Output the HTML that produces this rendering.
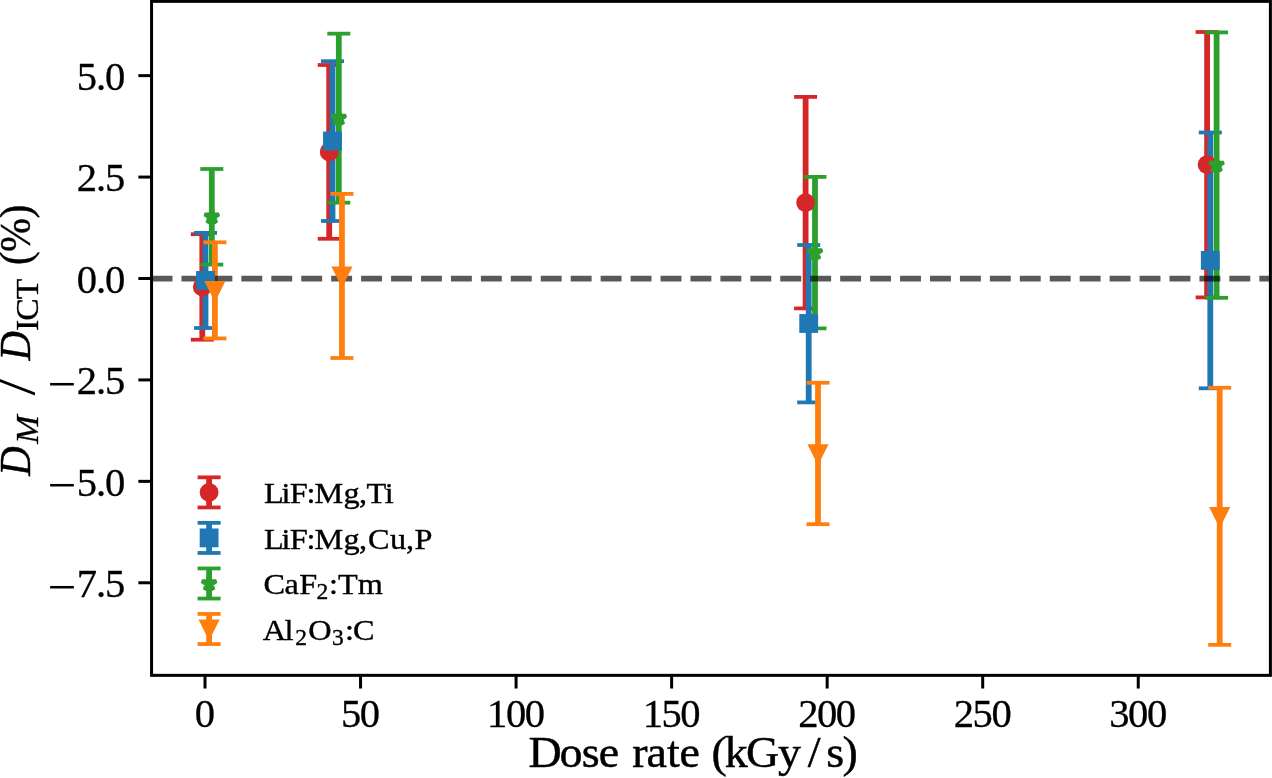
<!DOCTYPE html>
<html lang="en"><head><meta charset="utf-8"><title>Dose rate response</title>
<style>html,body{margin:0;padding:0;background:#fff}svg{display:block}</style></head>
<body>
<svg width="1272" height="778" viewBox="0 0 1272 778" font-family="'Liberation Serif', serif" fill="#000" shape-rendering="geometricPrecision">
<rect width="1272" height="778" fill="#fff"/>
<g id="errorbars">
<line x1="202.3" y1="234.2" x2="202.3" y2="339.7" stroke="#d62728" stroke-width="5.8"/>
<line x1="329.2" y1="65" x2="329.2" y2="238.8" stroke="#d62728" stroke-width="5.8"/>
<line x1="805.6" y1="96.9" x2="805.6" y2="308.4" stroke="#d62728" stroke-width="5.8"/>
<line x1="1207.1" y1="32" x2="1207.1" y2="297.4" stroke="#d62728" stroke-width="5.8"/>
<line x1="190.8" y1="339.7" x2="213.8" y2="339.7" stroke="#d62728" stroke-width="3.77"/>
<line x1="317.7" y1="238.8" x2="340.7" y2="238.8" stroke="#d62728" stroke-width="3.77"/>
<line x1="794.1" y1="308.4" x2="817.1" y2="308.4" stroke="#d62728" stroke-width="3.77"/>
<line x1="1195.6" y1="297.4" x2="1218.6" y2="297.4" stroke="#d62728" stroke-width="3.77"/>
<line x1="190.8" y1="234.2" x2="213.8" y2="234.2" stroke="#d62728" stroke-width="3.77"/>
<line x1="317.7" y1="65" x2="340.7" y2="65" stroke="#d62728" stroke-width="3.77"/>
<line x1="794.1" y1="96.9" x2="817.1" y2="96.9" stroke="#d62728" stroke-width="3.77"/>
<line x1="1195.6" y1="32" x2="1218.6" y2="32" stroke="#d62728" stroke-width="3.77"/>
<line x1="205.5" y1="232.9" x2="205.5" y2="328" stroke="#1f77b4" stroke-width="5.8"/>
<line x1="332.5" y1="61.2" x2="332.5" y2="221" stroke="#1f77b4" stroke-width="5.8"/>
<line x1="808.7" y1="245" x2="808.7" y2="402.4" stroke="#1f77b4" stroke-width="5.8"/>
<line x1="1210.3" y1="132.5" x2="1210.3" y2="388.3" stroke="#1f77b4" stroke-width="5.8"/>
<line x1="194" y1="328" x2="217" y2="328" stroke="#1f77b4" stroke-width="3.77"/>
<line x1="321" y1="221" x2="344" y2="221" stroke="#1f77b4" stroke-width="3.77"/>
<line x1="797.2" y1="402.4" x2="820.2" y2="402.4" stroke="#1f77b4" stroke-width="3.77"/>
<line x1="1198.8" y1="388.3" x2="1221.8" y2="388.3" stroke="#1f77b4" stroke-width="3.77"/>
<line x1="194" y1="232.9" x2="217" y2="232.9" stroke="#1f77b4" stroke-width="3.77"/>
<line x1="321" y1="61.2" x2="344" y2="61.2" stroke="#1f77b4" stroke-width="3.77"/>
<line x1="797.2" y1="245" x2="820.2" y2="245" stroke="#1f77b4" stroke-width="3.77"/>
<line x1="1198.8" y1="132.5" x2="1221.8" y2="132.5" stroke="#1f77b4" stroke-width="3.77"/>
<line x1="211.8" y1="169" x2="211.8" y2="264.6" stroke="#2ca02c" stroke-width="5.8"/>
<line x1="338.8" y1="33.65" x2="338.8" y2="202.65" stroke="#2ca02c" stroke-width="5.8"/>
<line x1="815" y1="176.9" x2="815" y2="328.4" stroke="#2ca02c" stroke-width="5.8"/>
<line x1="1216.6" y1="32.4" x2="1216.6" y2="297.8" stroke="#2ca02c" stroke-width="5.8"/>
<line x1="200.3" y1="264.6" x2="223.3" y2="264.6" stroke="#2ca02c" stroke-width="3.77"/>
<line x1="327.3" y1="202.65" x2="350.3" y2="202.65" stroke="#2ca02c" stroke-width="3.77"/>
<line x1="803.5" y1="328.4" x2="826.5" y2="328.4" stroke="#2ca02c" stroke-width="3.77"/>
<line x1="1205.1" y1="297.8" x2="1228.1" y2="297.8" stroke="#2ca02c" stroke-width="3.77"/>
<line x1="200.3" y1="169" x2="223.3" y2="169" stroke="#2ca02c" stroke-width="3.77"/>
<line x1="327.3" y1="33.65" x2="350.3" y2="33.65" stroke="#2ca02c" stroke-width="3.77"/>
<line x1="803.5" y1="176.9" x2="826.5" y2="176.9" stroke="#2ca02c" stroke-width="3.77"/>
<line x1="1205.1" y1="32.4" x2="1228.1" y2="32.4" stroke="#2ca02c" stroke-width="3.77"/>
<line x1="214.9" y1="242.3" x2="214.9" y2="338.4" stroke="#ff7f0e" stroke-width="5.8"/>
<line x1="341.95" y1="193.9" x2="341.95" y2="358" stroke="#ff7f0e" stroke-width="5.8"/>
<line x1="818" y1="382.75" x2="818" y2="524.2" stroke="#ff7f0e" stroke-width="5.8"/>
<line x1="1219.7" y1="387.75" x2="1219.7" y2="644.85" stroke="#ff7f0e" stroke-width="5.8"/>
<line x1="203.4" y1="338.4" x2="226.4" y2="338.4" stroke="#ff7f0e" stroke-width="3.77"/>
<line x1="330.45" y1="358" x2="353.45" y2="358" stroke="#ff7f0e" stroke-width="3.77"/>
<line x1="806.5" y1="524.2" x2="829.5" y2="524.2" stroke="#ff7f0e" stroke-width="3.77"/>
<line x1="1208.2" y1="644.85" x2="1231.2" y2="644.85" stroke="#ff7f0e" stroke-width="3.77"/>
<line x1="203.4" y1="242.3" x2="226.4" y2="242.3" stroke="#ff7f0e" stroke-width="3.77"/>
<line x1="330.45" y1="193.9" x2="353.45" y2="193.9" stroke="#ff7f0e" stroke-width="3.77"/>
<line x1="806.5" y1="382.75" x2="829.5" y2="382.75" stroke="#ff7f0e" stroke-width="3.77"/>
<line x1="1208.2" y1="387.75" x2="1231.2" y2="387.75" stroke="#ff7f0e" stroke-width="3.77"/>
</g>
<line x1="151.55" y1="278.6" x2="1270.4" y2="278.6" stroke="#000" stroke-opacity="0.65" stroke-width="5.65" stroke-dasharray="20.9 9.04"/>
<g id="markers">
<circle cx="202.3" cy="286.9" r="9.41" fill="#d62728"/>
<circle cx="329.2" cy="151.9" r="9.41" fill="#d62728"/>
<circle cx="805.6" cy="202.6" r="9.41" fill="#d62728"/>
<circle cx="1207.1" cy="164.7" r="9.41" fill="#d62728"/>
<rect x="196.09" y="270.98" width="18.83" height="18.83" fill="#1f77b4"/>
<rect x="323.08" y="131.59" width="18.83" height="18.83" fill="#1f77b4"/>
<rect x="799.29" y="314.08" width="18.83" height="18.83" fill="#1f77b4"/>
<rect x="1200.88" y="250.98" width="18.83" height="18.83" fill="#1f77b4"/>
<polygon points="211.8,209.17 210.11,214.37 204.64,214.37 209.06,217.59 207.37,222.79 211.8,219.58 216.23,222.79 214.54,217.59 218.96,214.37 213.49,214.37" fill="#2ca02c" stroke="#2ca02c" stroke-width="3.77" stroke-linejoin="bevel"/>
<polygon points="338.8,110.47 337.11,115.67 331.64,115.67 336.06,118.89 334.37,124.09 338.8,120.88 343.23,124.09 341.54,118.89 345.96,115.67 340.49,115.67" fill="#2ca02c" stroke="#2ca02c" stroke-width="3.77" stroke-linejoin="bevel"/>
<polygon points="815,244.97 813.31,250.17 807.84,250.17 812.26,253.39 810.57,258.59 815,255.38 819.43,258.59 817.74,253.39 822.16,250.17 816.69,250.17" fill="#2ca02c" stroke="#2ca02c" stroke-width="3.77" stroke-linejoin="bevel"/>
<polygon points="1216.6,157.37 1214.91,162.57 1209.44,162.57 1213.86,165.79 1212.17,170.99 1216.6,167.78 1221.03,170.99 1219.34,165.79 1223.76,162.57 1218.29,162.57" fill="#2ca02c" stroke="#2ca02c" stroke-width="3.77" stroke-linejoin="bevel"/>
<polygon points="207.37,282.97 222.43,282.97 214.9,298.03" fill="#ff7f0e" stroke="#ff7f0e" stroke-width="3.77" stroke-linejoin="miter" stroke-miterlimit="10"/>
<polygon points="334.42,268.47 349.48,268.47 341.95,283.53" fill="#ff7f0e" stroke="#ff7f0e" stroke-width="3.77" stroke-linejoin="miter" stroke-miterlimit="10"/>
<polygon points="810.47,446.07 825.53,446.07 818,461.13" fill="#ff7f0e" stroke="#ff7f0e" stroke-width="3.77" stroke-linejoin="miter" stroke-miterlimit="10"/>
<polygon points="1212.17,508.87 1227.23,508.87 1219.7,523.93" fill="#ff7f0e" stroke="#ff7f0e" stroke-width="3.77" stroke-linejoin="miter" stroke-miterlimit="10"/>
</g>
<g id="axes" stroke="#000" stroke-width="3.01" fill="none">
<rect x="151.55" y="1.35" width="1118.85" height="674"/>
<line x1="205" y1="675.35" x2="205" y2="688.53"/>
<line x1="360.54" y1="675.35" x2="360.54" y2="688.53"/>
<line x1="516.08" y1="675.35" x2="516.08" y2="688.53"/>
<line x1="671.62" y1="675.35" x2="671.62" y2="688.53"/>
<line x1="827.16" y1="675.35" x2="827.16" y2="688.53"/>
<line x1="982.7" y1="675.35" x2="982.7" y2="688.53"/>
<line x1="1138.24" y1="675.35" x2="1138.24" y2="688.53"/>
<line x1="151.55" y1="75.65" x2="138.37" y2="75.65"/>
<line x1="151.55" y1="177.07" x2="138.37" y2="177.07"/>
<line x1="151.55" y1="278.5" x2="138.37" y2="278.5"/>
<line x1="151.55" y1="379.93" x2="138.37" y2="379.93"/>
<line x1="151.55" y1="481.35" x2="138.37" y2="481.35"/>
<line x1="151.55" y1="582.77" x2="138.37" y2="582.77"/>
</g>
<g id="xticklabels">
<text x="194.85" y="727.4" font-size="40.6" stroke="#000" stroke-width="0.3">0</text>
<text x="340.98 359.81" y="727.4" font-size="40.6" stroke="#000" stroke-width="0.3">50</text>
<text x="487.1 505.93 524.76" y="727.4" font-size="40.6" stroke="#000" stroke-width="0.3">100</text>
<text x="642.64 661.47 680.3" y="727.4" font-size="40.6" stroke="#000" stroke-width="0.3">150</text>
<text x="798.18 817.01 835.84" y="727.4" font-size="40.6" stroke="#000" stroke-width="0.3">200</text>
<text x="953.72 972.55 991.38" y="727.4" font-size="40.6" stroke="#000" stroke-width="0.3">250</text>
<text x="1109.26 1128.09 1146.92" y="727.4" font-size="40.6" stroke="#000" stroke-width="0.3">300</text>
</g>
<g id="yticklabels" stroke="#000" stroke-width="0.3">
<text font-size="40.6"><tspan x="76.69 95.89 104.94" y="89.85">5.0</tspan></text>
<text font-size="40.6"><tspan x="76.69 95.89 104.94" y="191.27">2.5</tspan></text>
<text font-size="40.6"><tspan x="76.69 95.89 104.94" y="292.7">0.0</tspan></text>
<text font-size="40.6"><tspan x="47.64" y="400.76" font-size="51" stroke="none">−</tspan><tspan x="76.69 95.89 104.94" y="394.12">2.5</tspan></text>
<text font-size="40.6"><tspan x="47.64" y="502.18" font-size="51" stroke="none">−</tspan><tspan x="76.69 95.89 104.94" y="495.55">5.0</tspan></text>
<text font-size="40.6"><tspan x="47.64" y="603.61" font-size="51" stroke="none">−</tspan><tspan x="76.69 95.89 104.94" y="596.98">7.5</tspan></text>
</g>
<g id="xlabel">
<text transform="translate(0,766.7) scale(1.05,1)" x="503.24 532.76 553.99 570.33 595.24 602.27 615.76 635.31 647.14 672.38 677.59 690.25 710.49 741.01 769.25 786.85 802.49" y="0" font-size="43.8" stroke="#000" stroke-width="0.45">Dose rate (kGy/s)</text>
</g>
<g id="ylabel" transform="translate(0,476.1) rotate(-90)">
<text transform="translate(0,30.3) scale(0.93,1)" x="0.51" y="0" font-size="43.8" font-style="italic" stroke="#000" stroke-width="0.45">D</text>
<text transform="translate(0,37.9) scale(1.05,1)" x="30.72" y="0" font-size="32.5" font-style="italic" stroke="#000" stroke-width="0.35">M</text>
<text transform="translate(0,33.9) scale(1.15,1)" x="70.06" y="0" font-size="54">/</text>
<text transform="translate(0,30.3) scale(0.93,1)" x="124.28" y="0" font-size="43.8" font-style="italic" stroke="#000" stroke-width="0.45">D</text>
<text transform="translate(0,37.9) scale(1.04,1)" x="139.57 149.44 170.1" y="0" font-size="32.5" stroke="#000" stroke-width="0.35">ICT</text>
<text transform="translate(0,30.3) scale(0.93,1)" x="226.97 241.11 277.26" y="0" font-size="43.8" stroke="#000" stroke-width="0.45">(%)</text>
</g>
<g id="legend">
<line x1="209.1" y1="477.34" x2="209.1" y2="507.46" stroke="#d62728" stroke-width="5.8"/>
<line x1="197.6" y1="507.46" x2="220.6" y2="507.46" stroke="#d62728" stroke-width="3.77"/>
<line x1="197.6" y1="477.34" x2="220.6" y2="477.34" stroke="#d62728" stroke-width="3.77"/>
<circle cx="209.1" cy="492.4" r="9.41" fill="#d62728"/>
<line x1="209.1" y1="522.84" x2="209.1" y2="552.96" stroke="#1f77b4" stroke-width="5.8"/>
<line x1="197.6" y1="552.96" x2="220.6" y2="552.96" stroke="#1f77b4" stroke-width="3.77"/>
<line x1="197.6" y1="522.84" x2="220.6" y2="522.84" stroke="#1f77b4" stroke-width="3.77"/>
<rect x="199.69" y="528.49" width="18.83" height="18.83" fill="#1f77b4"/>
<line x1="209.1" y1="568.44" x2="209.1" y2="598.56" stroke="#2ca02c" stroke-width="5.8"/>
<line x1="197.6" y1="598.56" x2="220.6" y2="598.56" stroke="#2ca02c" stroke-width="3.77"/>
<line x1="197.6" y1="568.44" x2="220.6" y2="568.44" stroke="#2ca02c" stroke-width="3.77"/>
<polygon points="209.1,575.97 207.41,581.17 201.94,581.17 206.36,584.39 204.67,589.59 209.1,586.38 213.53,589.59 211.84,584.39 216.26,581.17 210.79,581.17" fill="#2ca02c" stroke="#2ca02c" stroke-width="3.77" stroke-linejoin="bevel"/>
<line x1="209.1" y1="613.94" x2="209.1" y2="644.06" stroke="#ff7f0e" stroke-width="5.8"/>
<line x1="197.6" y1="644.06" x2="220.6" y2="644.06" stroke="#ff7f0e" stroke-width="3.77"/>
<line x1="197.6" y1="613.94" x2="220.6" y2="613.94" stroke="#ff7f0e" stroke-width="3.77"/>
<polygon points="201.57,621.47 216.63,621.47 209.1,636.53" fill="#ff7f0e" stroke="#ff7f0e" stroke-width="3.77" stroke-linejoin="miter" stroke-miterlimit="10"/>
<text transform="translate(0,503.2) scale(1.06,1)" x="249.04 265.69 273.38 289.14 296.68 323.99 338.69 345.76 363.09" y="0" font-size="30.5" stroke="#000" stroke-width="0.35">LiF:Mg,Ti</text>
<text transform="translate(0,548.7) scale(1.06,1)" x="249.04 265.69 273.38 289.14 296.68 323.99 338.69 347.21 367.95 383.08 390.98" y="0" font-size="30.5" stroke="#000" stroke-width="0.35">LiF:Mg,Cu,P</text>
<text transform="translate(0,594.2) scale(1.06,1)" stroke="#000" stroke-width="0.35"><tspan x="248.58 268.33 282.24" y="0" font-size="30.5">CaF</tspan><tspan x="298.68" y="4.9" font-size="22.2">2</tspan><tspan x="310.37 318.96 337.49" y="0" font-size="30.5">:Tm</tspan></text>
<text transform="translate(0,639.8) scale(1.06,1)" stroke="#000" stroke-width="0.35"><tspan x="247.86 268.36" y="0" font-size="30.5">Al</tspan><tspan x="278.44" y="4.7" font-size="22.2">2</tspan><tspan x="290.87" y="0" font-size="30.5">O</tspan><tspan x="313.13" y="4.7" font-size="22.2">3</tspan><tspan x="325.42 333.11" y="0" font-size="30.5">:C</tspan></text>
</g>
</svg>
</body></html>
